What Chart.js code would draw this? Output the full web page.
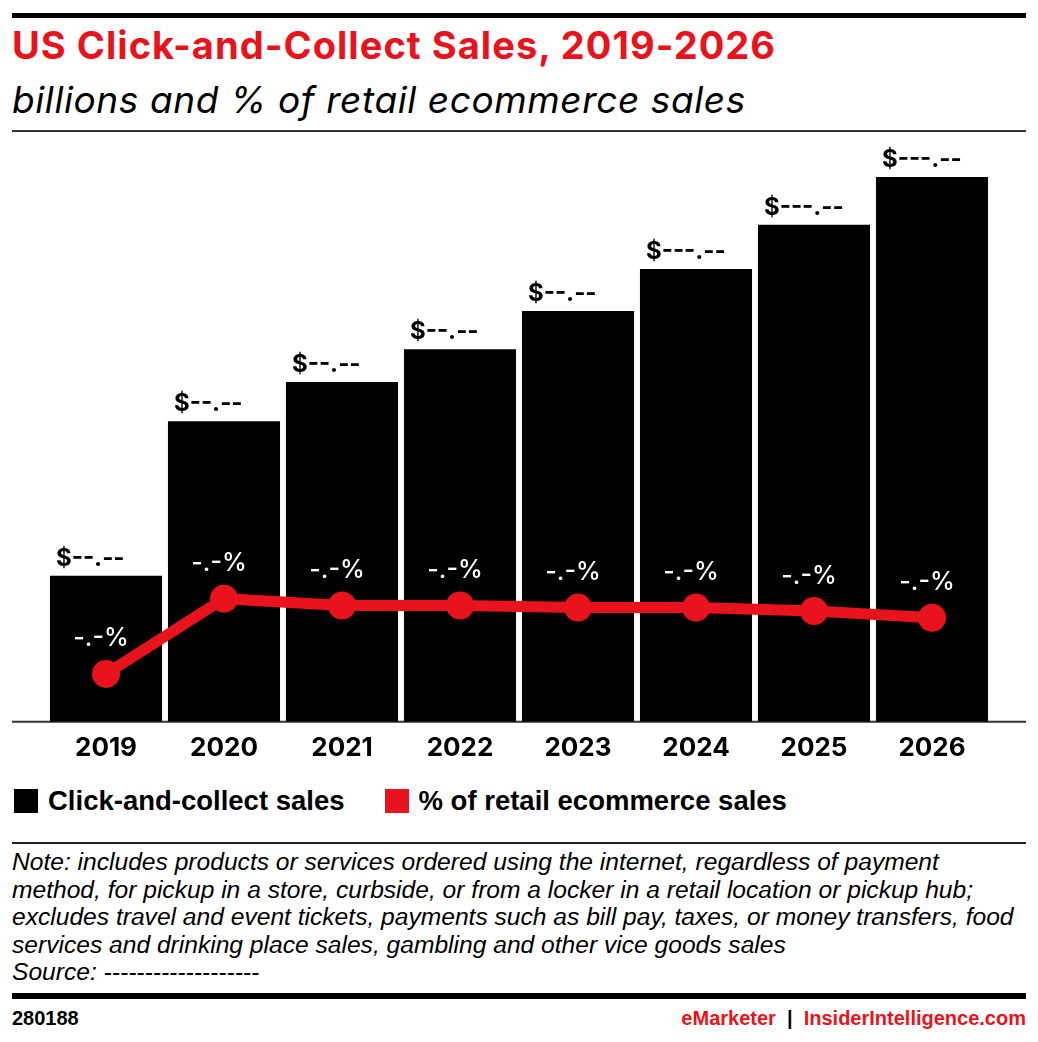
<!DOCTYPE html>
<html lang="en">
<head>
    <meta charset="UTF-8">
    <title>US Click-and-Collect Sales, 2019-2026</title>
    <style>
        body {
            margin: 0;
            width: 1038px;
            height: 1042px;
            background: #fff;
            color: #000;
            font-family: Inter, "Open Sans", sans-serif;
            position: relative;
            overflow: hidden;
        }
        .rule {
            position: absolute;
            left: 12px;
            width: 1014px;
            background: #000;
        }
        #title {
            position: absolute;
            left: 12px;
            top: 23px;
            font-size: 38px;
            font-weight: 700;
            color: #e8131d;
            line-height: 44px;
            letter-spacing: 1.05px;
        }
        #subtitle {
            position: absolute;
            left: 12px;
            top: 77px;
            font-size: 37px;
            font-style: italic;
            line-height: 46px;
            letter-spacing: 0.6px;
        }
        #chart-box {
            position: absolute;
            left: 0;
            top: 132px;
            width: 1038px;
            height: 650px;
        }
        #legend {
            position: absolute;
            left: 14px;
            top: 786px;
            font-family: "Liberation Sans Narrow", "Liberation Sans", sans-serif;
            font-weight: 700;
            font-size: 27.5px;
            line-height: 30px;
            display: flex;
        }
        #legend span.sw {
            display: inline-block;
            width: 24px;
            height: 24px;
            margin: 3px 10px 0 0;
            vertical-align: top;
        }
        #legend .item { margin-right: 40px; }
        #note {
            position: absolute;
            left: 12px;
            top: 848px;
            width: 1020px;
            font-family: "Liberation Sans Narrow", "Liberation Sans", sans-serif;
            font-style: italic;
            font-size: 24.6px;
            line-height: 27.5px;
            white-space: nowrap;
        }
        #footer {
            position: absolute;
            left: 12px;
            top: 1006px;
            width: 1014px;
            font-family: "Liberation Sans Narrow", "Liberation Sans", sans-serif;
            font-weight: 700;
            font-size: 20px;
            line-height: 24px;
        }
        #footer .right { position: absolute; right: 0; top: 0; }
        .red { color: #e8131d; }
    </style>
</head>
<body>
    <div class="rule" style="top:13px;height:5px"></div>
    <div id="title">US Click-and-Collect Sales, 2019-2026</div>
    <div id="subtitle">billions and % of retail ecommerce sales</div>
    <div class="rule" style="top:130px;height:2px;background:#333"></div>

    <div id="chart-box"><canvas id="chart"></canvas></div>

    <div id="legend">
        <div class="item"><span class="sw" style="background:#000"></span>Click-and-collect sales</div>
        <div class="item"><span class="sw" style="background:#e8131d"></span>% of retail ecommerce sales</div>
    </div>

    <div class="rule" style="top:842px;height:2px;background:#222"></div>
    <div id="note">Note: includes products or services ordered using the internet, regardless of payment<br>method, for pickup in a store, curbside, or from a locker in a retail location or pickup hub;<br>excludes travel and event tickets, payments such as bill pay, taxes, or money transfers, food<br>services and drinking place sales, gambling and other vice goods sales<br>Source: -------------------</div>
    <div class="rule" style="top:993px;height:6px"></div>
    <div id="footer">280188<span class="right"><span class="red">eMarketer</span> &nbsp;|&nbsp; <span class="red">InsiderIntelligence.com</span></span></div>

    <script src="https://cdn.jsdelivr.net/npm/chart.js"></script>
    <script>
        // data (values masked in the source)
        const years = ['2019', '2020', '2021', '2022', '2023', '2024', '2025', '2026'];
        const salesBillions = [35.1, 72.2, 81.6, 89.5, 98.7, 108.8, 119.4, 130.9];
        const pctOfEcommerce = [3.5, 9.0, 8.5, 8.5, 8.35, 8.35, 8.1, 7.6];
        const salesLabels = ['$--.--', '$--.--', '$--.--', '$--.--', '$--.--', '$---.--', '$---.--', '$---.--'];
        const pctLabels = ['-.-%', '-.-%', '-.-%', '-.-%', '-.-%', '-.-%', '-.-%', '-.-%'];

        const RED = '#e8131d';
        const FONT = 'Inter, "Open Sans", sans-serif';

        // baseline that runs the full width of the page
        const baseline = {
            id: 'baseline',
            beforeDatasetsDraw(chart) {
                const ctx = chart.ctx;
                const y = chart.scales.y.getPixelForValue(0);
                ctx.save();
                ctx.strokeStyle = '#333';
                ctx.lineWidth = 2;
                ctx.beginPath();
                ctx.moveTo(12, y);
                ctx.lineTo(1026, y);
                ctx.stroke();
                ctx.restore();
            }
        };

        // value labels above bars and points
        const valueLabels = {
            id: 'valueLabels',
            afterDatasetsDraw(chart) {
                const ctx = chart.ctx;
                ctx.save();
                const bars = chart.getDatasetMeta(1).data;
                ctx.font = '700 24px ' + FONT;
                ctx.fillStyle = '#000';
                ctx.textAlign = 'left';
                ctx.textBaseline = 'bottom';
                bars.forEach((bar, i) => {
                    ctx.fillText(salesLabels[i], bar.x - bar.width / 2 + 6, bar.y - 5);
                });
                const pts = chart.getDatasetMeta(0).data;
                ctx.font = '500 25px ' + FONT;
                ctx.fillStyle = '#fff';
                ctx.textAlign = 'center';
                ctx.textBaseline = 'middle';
                pts.forEach((p, i) => {
                    ctx.fillText(pctLabels[i], p.x - 5, p.y - 35);
                });
                ctx.restore();
            }
        };

        new Chart(document.getElementById('chart'), {
            data: {
                labels: years,
                datasets: [
                    {
                        type: 'line',
                        label: '% of retail ecommerce sales',
                        data: pctOfEcommerce,
                        yAxisID: 'y2',
                        borderColor: RED,
                        backgroundColor: RED,
                        borderWidth: 11,
                        pointRadius: 14,
                        pointHoverRadius: 14,
                        pointBorderWidth: 0,
                        tension: 0,
                        order: 0
                    },
                    {
                        type: 'bar',
                        label: 'Click-and-collect sales',
                        data: salesBillions,
                        yAxisID: 'y',
                        backgroundColor: '#000',
                        categoryPercentage: 0.95,
                        barPercentage: 1.0,
                        order: 1
                    }
                ]
            },
            options: {
                responsive: true,
                maintainAspectRatio: false,
                animation: false,
                layout: { autoPadding: false, padding: { left: 47, right: 47, top: 7, bottom: 15 } },
                plugins: {
                    legend: { display: false },
                    tooltip: { enabled: false }
                },
                scales: {
                    x: {
                        grid: { display: false },
                        border: { display: false },
                        ticks: {
                            color: '#000',
                            padding: 3,
                            font: { family: FONT, size: 26, weight: '700' }
                        }
                    },
                    y: { display: false, min: 0, max: 140 },
                    y2: { display: false, min: 0, max: 42.6 }
                }
            },
            plugins: [baseline, valueLabels]
        });
    </script>
</body>
</html>
